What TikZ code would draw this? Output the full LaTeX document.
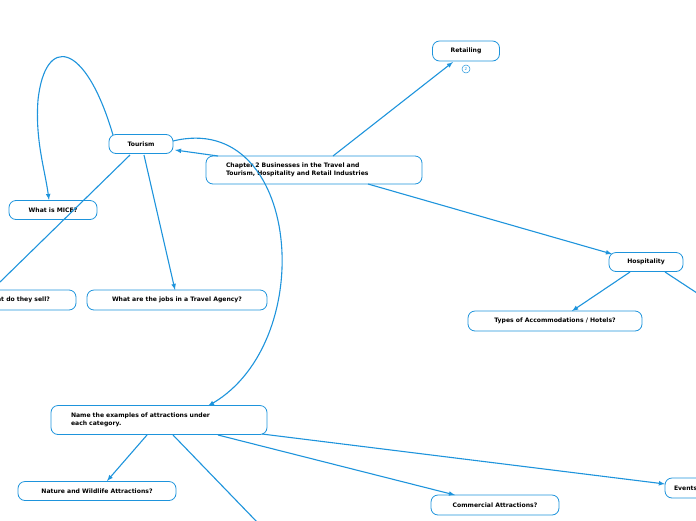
\documentclass[tikz,border=0pt]{standalone}
\usepackage{fontspec}
\setmainfont{DejaVu Sans}
\begin{document}
\begin{tikzpicture}[x=1pt,y=-1pt,
  line/.style={draw=lb,line width=1.1pt},
  arr/.style={line,-latex},
  box/.style={draw=lb,line width=0.8pt,rounded corners=7pt,fill=white,font=\bfseries\fontsize{6.1}{7.6}\selectfont,inner sep=0pt,align=left}]
\definecolor{lb}{HTML}{1E94DC}
\useasboundingbox (0,0) rectangle (696,520);
\clip (0,0) rectangle (696,520);
\node[box,minimum width=67pt,minimum height=20pt] (ret) at (466,51) {Retailing};
\node[draw=lb,circle,line width=0.5pt,inner sep=0pt,minimum size=8pt,text=lb,font=\fontsize{4}{4}\selectfont] (cnt) at (466,69) {2};
\node[box,minimum width=216pt,minimum height=28pt,text width=204pt] (c) at (314,170) {\hspace*{14pt}Chapter 2 Businesses in the Travel and\\\hspace*{14pt}Tourism, Hospitality and Retail Industries};
\node[box,minimum width=64pt,minimum height=19pt] (tour) at (141,144) {Tourism};
\node[box,minimum width=88pt,minimum height=19pt] (mice) at (53,210) {What is MICE?};
\node[box,minimum width=116pt,minimum height=20pt] (sell) at (18,300) {What do they sell?};
\node[box,minimum width=180pt,minimum height=20pt] (jobs) at (177,300) {What are the jobs in a Travel Agency?};
\node[box,minimum width=74pt,minimum height=19pt] (hosp) at (646,262) {Hospitality};
\node[box,minimum width=174pt,minimum height=20pt] (acc) at (555,321) {Types of Accommodations / Hotels?};
\node[box,minimum width=216pt,minimum height=29pt,text width=204pt] (name) at (159,420) {\hspace*{14pt}Name the examples of attractions under\\\hspace*{14pt}each category.};
\node[box,minimum width=158pt,minimum height=19pt] (nat) at (97,491) {Nature and Wildlife Attractions?};
\node[box,minimum width=128pt,minimum height=20pt] (com) at (495,505) {Commercial Attractions?};
\node[box,minimum width=128pt,minimum height=20pt,text width=112pt] (ev) at (729,488) {\hspace*{1pt}Events Attractions?};
\coordinate (o1) at (0,282);
\coordinate (o2) at (700,295);
\coordinate (o3) at (258,523);
\draw[arr] (333,156) -- (453,62);
\draw[arr] (368,184) -- (612,254);
\draw[arr] (218,156) -- (175,150);
\draw[line] (130,155) -- (o1);
\draw[arr] (144,155) -- (175,290);
\draw[arr] (113,135) .. controls (85,40) and (45,35) .. (38,100) .. controls (35,140) and (45,170) .. (49,200);
\draw[arr] (173,141) .. controls (300,110) and (320,340) .. (208,406);
\draw[arr] (630,272) -- (572,311);
\draw[line] (665,272) -- (o2);
\draw[arr] (147,435) -- (107,481);
\draw[line] (173,435) -- (o3);
\draw[arr] (218,435) -- (455,495);
\draw[arr] (262,434) -- (665,484);
\end{tikzpicture}
\end{document}
